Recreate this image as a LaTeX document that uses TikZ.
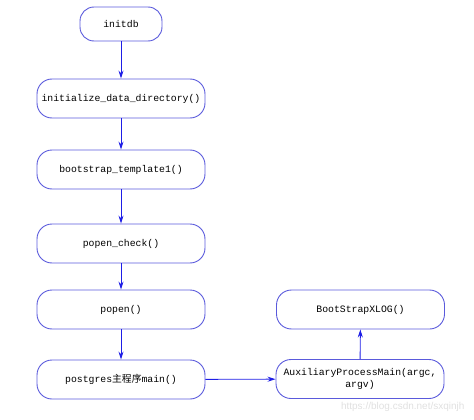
\documentclass[tikz,border=0pt]{standalone}
\usepackage{fontspec}
\setmainfont{Liberation Sans}
\setmonofont{Liberation Mono}
\newfontfamily\cjk{Noto Sans CJK SC}
\usetikzlibrary{arrows.meta}
\definecolor{boxblue}{HTML}{5A5ADC}
\definecolor{arrblue}{HTML}{1E1EE6}
\tikzset{
  flowbox/.style={draw=boxblue, line width=0.9pt, rounded corners=15pt, minimum width=168pt, minimum height=39pt, align=center, font=\fontsize{9.8}{11.5}\selectfont\ttfamily, text=black, inner sep=2pt},
  smallbox/.style={flowbox, minimum width=82pt, minimum height=34pt, rounded corners=14pt},
  flowarr/.style={draw=arrblue, line width=0.9pt, -{Stealth[length=8pt,width=5pt]}}
}
\begin{document}
\begin{tikzpicture}[x=1pt,y=-1pt]
\useasboundingbox (0,0) rectangle (474,420);
\node[smallbox] (initdb) at (121,24) {initdb};
\node[flowbox] (idd) at (121,98.5) {initialize\_data\_directory()};
\node[flowbox] (bt) at (121,169.5) {bootstrap\_template1()};
\node[flowbox] (pc) at (121,243.5) {popen\_check()};
\node[flowbox] (po) at (121,309.5) {popen()};
\node[flowbox] (pm) at (121,379.5) {postgres{\cjk 主程序}main()};
\node[flowbox] (aux) at (360,379) {AuxiliaryProcessMain(argc,\\argv)};
\node[flowbox] (bx) at (360.5,309.5) {BootStrapXLOG()};
\draw[flowarr] (initdb) -- (idd);
\draw[flowarr] (idd) -- (bt);
\draw[flowarr] (bt) -- (pc);
\draw[flowarr] (pc) -- (po);
\draw[flowarr] (po) -- (pm);
\draw[flowarr] (pm) -- (aux);
\draw[flowarr] (aux) -- (bx);
\node[text=black!12, font=\fontsize{10}{12}\selectfont, anchor=east] (wm) at (468,407) {https://blog.csdn.net/sxqinjh};
\end{tikzpicture}
\end{document}
